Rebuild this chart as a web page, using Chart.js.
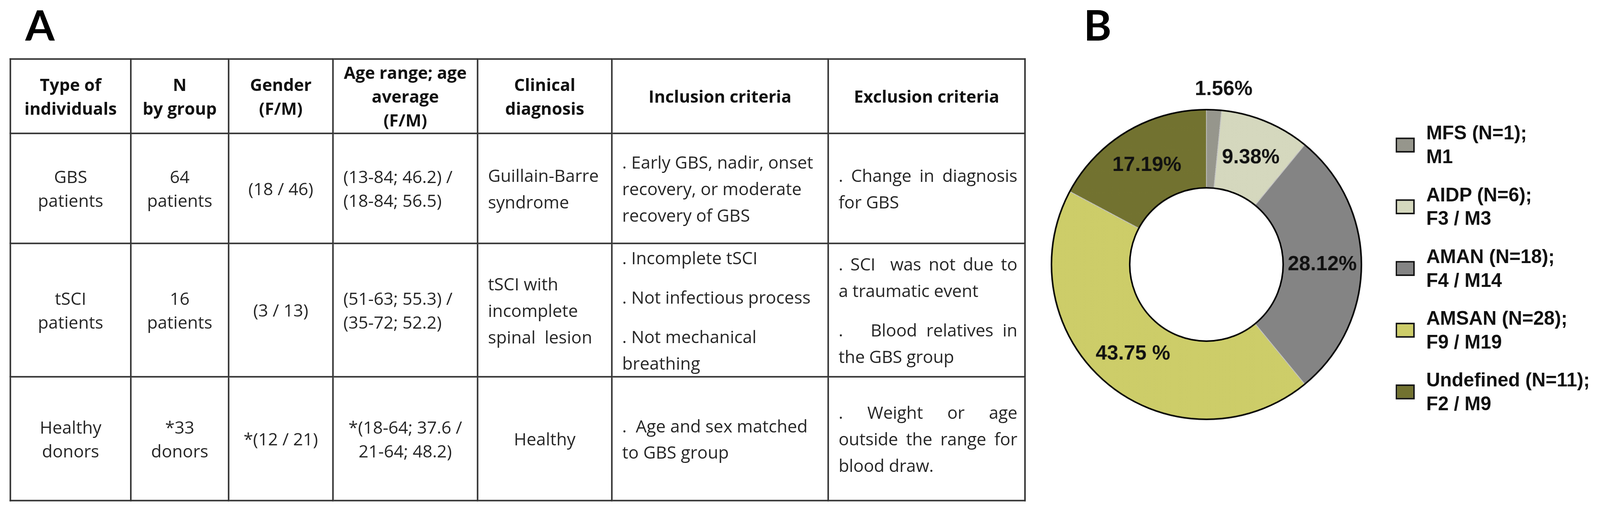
<!DOCTYPE html>
<html>
<head>
<meta charset="utf-8">
<script src="https://cdn.jsdelivr.net/npm/chart.js@4.4.1/dist/chart.umd.min.js"></script>
<style>
    html, body { margin: 0; padding: 0; background: #fff; overflow: hidden; }
    body { width: 100vw; height: 100vh; position: relative; }
    #pagina { position: absolute; left: 0; top: 0; width: 4171px; height: 1322px; transform-origin: 0 0; }
    .painel { position: absolute; top: 8px; font-family: Lato, sans-serif; font-weight: 700; font-size: 110px; line-height: 1; color: #000; }
    #letraA { left: 66px; }
    #letraB { left: 2825px; }

    table { position: absolute; left: 25px; top: 152px; width: 2645px; border-collapse: collapse; table-layout: fixed;
            font-family: "Open Sans", sans-serif; font-size: 45px; color: #262626; }
    th, td { border: 4px solid #333; vertical-align: middle; white-space: nowrap; }
    th { font-size: 44px; font-weight: 700; color: #111; line-height: 62px; text-align: center; padding: 0 6px; }
    td { line-height: 62px; text-align: center; padding: 0 25px; }
    td.esq { text-align: left; line-height: 69px; }
    td.esq62 { text-align: left; }
    td.largo { line-height: 69px; }
    td.excl { padding-right: 18px; letter-spacing: -0.2px; }
    td .j { text-align: justify; text-align-last: justify; white-space: normal; }
    td .gap { margin-top: 34px; }

    #chartBox { position: absolute; left: 2645px; top: 190px; width: 1000px; height: 1000px; }
    #legenda { position: absolute; left: 3638px; top: 316px; margin: 0; padding: 0; list-style: none;
               font-family: "Liberation Sans", Arial, sans-serif; font-weight: 700; font-size: 50px; line-height: 62px; color: #111; }
    #legenda li { display: flex; align-items: center; height: 124px; margin-bottom: 37px; white-space: nowrap; }
    #legenda .caixa { width: 42px; height: 31px; border: 4px solid #111; margin-right: 30px; flex: none; }
</style>
</head>
<body>
<div id="pagina">

<div class="painel" id="letraA">A</div>
<div class="painel" id="letraB">B</div>

<table>
    <colgroup>
        <col style="width:314px"><col style="width:255px"><col style="width:272px"><col style="width:377px">
        <col style="width:350px"><col style="width:564px"><col style="width:513px">
    </colgroup>
    <tr style="height:194px">
        <th>Type of<br>individuals</th>
        <th>N<br>by group</th>
        <th>Gender<br>(F/M)</th>
        <th>Age range; age<br>average<br>(F/M)</th>
        <th>Clinical<br>diagnosis</th>
        <th>Inclusion criteria</th>
        <th>Exclusion criteria</th>
    </tr>
    <tr style="height:287px">
        <td>GBS<br>patients</td>
        <td>64<br>patients</td>
        <td>(18 / 46)</td>
        <td class="esq62">(13-84; 46.2) /<br>(18-84; 56.5)</td>
        <td class="esq">Guillain-Barre<br>syndrome</td>
        <td class="esq">. Early GBS, nadir, onset<br>recovery, or moderate<br>recovery of GBS</td>
        <td class="esq excl"><div class="j">. Change in diagnosis</div><div>for GBS</div></td>
    </tr>
    <tr style="height:344px">
        <td>tSCI<br>patients</td>
        <td>16<br>patients</td>
        <td>(3 / 13)</td>
        <td class="esq62">(51-63; 55.3) /<br>(35-72; 52.2)</td>
        <td class="esq">tSCI with<br>incomplete<br>spinal&nbsp; lesion</td>
        <td class="esq"><div>. Incomplete tSCI</div><div class="gap">. Not infectious process</div><div class="gap">. Not mechanical<br>breathing</div></td>
        <td class="esq excl"><div class="j">. SCI&nbsp; was not due to</div><div>a traumatic event</div><div class="j gap">.&nbsp;&nbsp; Blood relatives in</div><div>the GBS group</div></td>
    </tr>
    <tr style="height:323px">
        <td>Healthy<br>donors</td>
        <td>*33<br>donors</td>
        <td>*(12 / 21)</td>
        <td>*(18-64; 37.6 /<br>21-64; 48.2)</td>
        <td class="largo">Healthy</td>
        <td class="esq">.&nbsp; Age and sex matched<br>to GBS group</td>
        <td class="esq excl"><div class="j">. Weight or age</div><div class="j">outside the range for</div><div>blood draw.</div></td>
    </tr>
</table>

<div id="chartBox"><canvas id="graficoGBS"></canvas></div>
<ul id="legenda"></ul>

</div>

<script>
// --- DADOS DO GRÁFICO ---
const subtypes = ['MFS', 'AIDP', 'AMAN', 'AMSAN', 'Undefined'];
const patients = [1, 6, 18, 28, 11];
const sexSplit = ['M1', 'F3 / M3', 'F4 / M14', 'F9 / M19', 'F2 / M9'];
const pctLabels = ['1.56%', '9.38%', '28.12%', '43.75 %', '17.19%'];

// cor base e cor do pontilhado de cada fatia
const baseColors = ['#c6c6ba', '#e6e9cf', '#848484', '#d8d876', '#7a7a34'];
const dotColors = ['#66665f', '#c4c7ad', '#848484', '#c2c25c', '#6b6b2c'];

// --- A FIGURA TEM 4171 x 1322: AJUSTA À JANELA REAL ---
function ajustarEscala() {
    const s = Math.min(window.innerWidth / 4171, window.innerHeight / 1322);
    document.getElementById('pagina').style.transform = 'scale(' + s + ')';
}
ajustarEscala();

// --- TEXTURA PONTILHADA DAS FATIAS ---
function criarTextura(base, ponto) {
    const c = document.createElement('canvas');
    c.width = 4; c.height = 4;
    const g = c.getContext('2d');
    g.fillStyle = base;
    g.fillRect(0, 0, 4, 4);
    g.fillStyle = ponto;
    g.fillRect(0, 0, 2, 2);
    g.fillRect(2, 2, 2, 2);
    return c;
}

const texturas = baseColors.map((b, i) => criarTextura(b, dotColors[i]));
const ctxTmp = document.createElement('canvas').getContext('2d');
const preenchimentos = texturas.map(t => ctxTmp.createPattern(t, 'repeat'));

// --- RÓTULOS DE PERCENTUAL E CONTORNO PRETO DO ANEL ---
const rotulosAnel = {
    id: 'rotulosAnel',
    afterDatasetsDraw(chart) {
        const meta = chart.getDatasetMeta(0);
        const ctx = chart.ctx;
        const total = patients.reduce((a, b) => a + b, 0);
        const a0 = meta.data[0];

        ctx.save();
        ctx.strokeStyle = '#000';
        ctx.lineWidth = 4;
        ctx.beginPath();
        ctx.arc(a0.x, a0.y, a0.outerRadius, 0, Math.PI * 2);
        ctx.stroke();
        ctx.beginPath();
        ctx.arc(a0.x, a0.y, a0.innerRadius, 0, Math.PI * 2);
        ctx.stroke();

        ctx.font = 'bold 53px "Liberation Sans", Arial, sans-serif';
        ctx.textAlign = 'center';
        ctx.textBaseline = 'middle';
        ctx.fillStyle = '#111';
        meta.data.forEach((arc, i) => {
            const pequeno = patients[i] / total < 0.05;
            // fatia muito fina: rótulo fora do anel, na borda final da fatia
            const ang = pequeno ? arc.endAngle : (arc.startAngle + arc.endAngle) / 2;
            const r = pequeno ? arc.outerRadius + 55 : (arc.innerRadius + arc.outerRadius) / 2;
            ctx.fillText(pctLabels[i], arc.x + Math.cos(ang) * r, arc.y + Math.sin(ang) * r);
        });
        ctx.restore();
    }
};

new Chart(document.getElementById('graficoGBS'), {
    type: 'doughnut',
    data: {
        labels: subtypes,
        datasets: [{
            data: patients,
            backgroundColor: preenchimentos,
            borderColor: '#c4c4c4',
            borderWidth: 2,
            hoverOffset: 0
        }]
    },
    options: {
        responsive: true,
        maintainAspectRatio: false,
        animation: false,
        events: [],
        cutout: '49.5%',
        layout: { padding: 95 },
        plugins: {
            legend: { display: false },
            tooltip: { enabled: false }
        }
    },
    plugins: [rotulosAnel]
});

// --- LEGENDA EM HTML ---
const legenda = document.getElementById('legenda');
subtypes.forEach((nome, i) => {
    const li = document.createElement('li');
    li.innerHTML = `
        <span class="caixa" style="background-image:url(${texturas[i].toDataURL()})"></span>
        <span>${nome} (N=${patients[i]});<br>${sexSplit[i]}</span>
    `;
    legenda.appendChild(li);
});
</script>
</body>
</html>
